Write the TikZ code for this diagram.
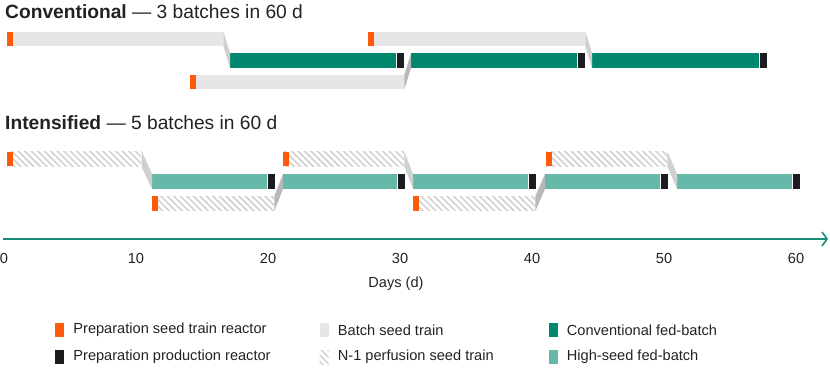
\documentclass[tikz,border=0pt]{standalone}
\usepackage{fontspec}
\setmainfont{Liberation Sans}
\usetikzlibrary{arrows.meta, patterns.meta, positioning}

\definecolor{prepseed}{HTML}{FF5A0A}
\definecolor{prepprod}{HTML}{1C1C20}
\definecolor{batchgrey}{HTML}{E6E6E6}
\definecolor{hatchgrey}{HTML}{D2D2D2}
\definecolor{convgreen}{HTML}{00876D}
\definecolor{highteal}{HTML}{66B9A9}
\definecolor{foldlight}{HTML}{D0D0D0}
\definecolor{folddark}{HTML}{B8B8B8}
\definecolor{axisteal}{HTML}{178C79}
\definecolor{textgrey}{HTML}{222222}

\begin{document}
\begin{tikzpicture}[
    x = 1pt, y = -1pt,
    every node/.style = {text = textgrey},
    bar/.style = {
      rectangle,
      inner sep = 0pt,
      minimum height = 14.5pt,
      anchor = west,
    },
    batchseed/.style = {bar, fill = batchgrey},
    perfseed/.style = {
      bar,
      pattern = {Lines[angle = -45, distance = 4.6pt, line width = 1.7pt]},
      pattern color = hatchgrey,
    },
    convbatch/.style = {bar, fill = convgreen},
    highbatch/.style = {bar, fill = highteal},
    seedprep/.style = {bar, fill = prepseed, minimum width = 6pt},
    prodprep/.style = {bar, fill = prepprod, minimum width = 7.5pt},
    folddown/.style = {fill = foldlight},
    foldup/.style = {fill = folddark},
    title/.style = {anchor = base west, inner sep = 0pt,
      font = \fontsize{19.2}{21}\selectfont},
    small/.style = {inner sep = 0pt, font = \fontsize{14.6}{16}\selectfont},
    swatch/.style = {rectangle, inner sep = 0pt, minimum width = 9pt,
      minimum height = 14pt},
  ]
        \useasboundingbox (0,0) rectangle (830,367);

        % conventional
        \node [title] (convtitle) at (5,18)
          {\textbf{Conventional} — 3 batches in 60 d};

        \node [batchseed, minimum width = 216pt] (cs1) at (7,39) {};
        \node [batchseed, minimum width = 214pt] (cs2) at (190,82) {};
        \node [batchseed, minimum width = 217pt] (cs3) at (368,39) {};
        \node [seedprep] (csp1) at (cs1.west) {};
        \node [seedprep] (csp2) at (cs2.west) {};
        \node [seedprep] (csp3) at (cs3.west) {};

        \node [convbatch, minimum width = 166pt] (cp1) at (230,60.5) {};
        \node [convbatch, minimum width = 166pt] (cp2) at (411,60.5) {};
        \node [convbatch, minimum width = 167pt] (cp3) at (592,60.5) {};
        \node [prodprep] (cpp1) at (cp1.east) {};
        \node [prodprep] (cpp2) at (cp2.east) {};
        \node [prodprep] (cpp3) at (cp3.east) {};

        \fill [folddown] (cs1.north east) -- (cp1.north west)
          -- (cp1.south west) -- (cs1.south east) -- cycle;
        \fill [foldup] (cs2.north east) -- (cp2.north west)
          -- (cp2.south west) -- (cs2.south east) -- cycle;
        \fill [folddown] (cs3.north east) -- (cp3.north west)
          -- (cp3.south west) -- (cs3.south east) -- cycle;

        % intensified
        \node [title] (inttitle) at (5,129)
          {\textbf{Intensified} — 5 batches in 60 d};

        \node [perfseed, minimum width = 133pt] (is1) at (7,159) {};
        \node [perfseed, minimum width = 122pt] (is2) at (152,203.5) {};
        \node [perfseed, minimum width = 121pt] (is3) at (283,159) {};
        \node [perfseed, minimum width = 122pt] (is4) at (413,203.5) {};
        \node [perfseed, minimum width = 121pt] (is5) at (546,159) {};
        \foreach \i in {1,...,5}
          \node [seedprep] (isp\i) at (is\i.west) {};

        \node [highbatch, minimum width = 115pt] (ip1) at (152,181.5) {};
        \node [highbatch, minimum width = 114pt] (ip2) at (283,181.5) {};
        \node [highbatch, minimum width = 115pt] (ip3) at (413,181.5) {};
        \node [highbatch, minimum width = 115pt] (ip4) at (545,181.5) {};
        \node [highbatch, minimum width = 115pt] (ip5) at (677,181.5) {};
        \foreach \i in {1,...,5}
          \node [prodprep] (ipp\i) at (ip\i.east) {};

        \foreach \i/\f in {1/folddown, 2/foldup, 3/folddown, 4/foldup,
            5/folddown}
          \fill [\f] (is\i.north east) -- (ip\i.north west)
            -- (ip\i.south west) -- (is\i.south east) -- cycle;

        % time axis
        \coordinate (axstart) at (3,239);
        \coordinate (axend) at (828,239);
        \draw [axisteal, line width = 1.8pt,
          -{Straight Barb[length = 5pt, width = 14pt, line width = 1.6pt]}]
          (axstart) -- (axend);
        \foreach \d in {0,10,...,60}
          \node [small, anchor = base] (tick\d) at ({4+13.2*\d},263) {\d};
        \node [small, anchor = base] (daylabel) at (396,287) {Days (d)};

        % legend
        \node [swatch, fill = prepseed] (lg1) at (59.5,330) {};
        \node [swatch, fill = prepprod] (lg2) at (59.5,357) {};
        \node [swatch, fill = batchgrey] (lg3) at (324,330) {};
        \node [swatch, pattern = {Lines[angle = -45, distance = 4.6pt,
          line width = 1.7pt]}, pattern color = hatchgrey] (lg4) at (324,357) {};
        \node [swatch, fill = convgreen] (lg5) at (553,330) {};
        \node [swatch, fill = highteal] (lg6) at (553,357) {};

        \node [small, right = 9pt of lg1] (lt1) {Preparation seed train reactor};
        \node [small, right = 9pt of lg2] (lt2) {Preparation production reactor};
        \node [small, right = 9pt of lg3] (lt3) {Batch seed train};
        \node [small, right = 9pt of lg4] (lt4) {N-1 perfusion seed train};
        \node [small, right = 9pt of lg5] (lt5) {Conventional fed-batch};
        \node [small, right = 9pt of lg6] (lt6) {High-seed fed-batch};
\end{tikzpicture}
\end{document}
